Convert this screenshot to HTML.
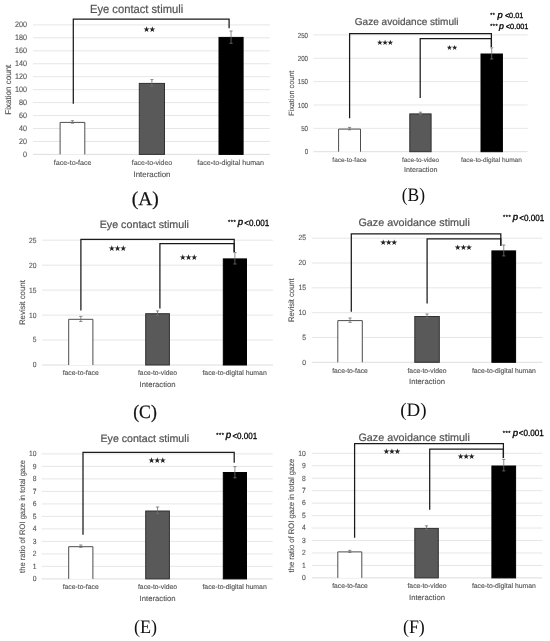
<!DOCTYPE html>
<html lang="en">
<head>
<meta charset="utf-8">
<title>Eye-tracking results by interaction type</title>
<style>
html, body { margin: 0; padding: 0; background: #ffffff; }
body { width: 550px; height: 641px; overflow: hidden; }
svg { display: block; font-family: "Liberation Sans", Arial, sans-serif; text-rendering: geometricPrecision; }
</style>
</head>
<body>
<svg width="550" height="641" viewBox="0 0 550 641">
<rect x="0" y="0" width="550" height="641" fill="#ffffff"/>
<g id="panelA">
<line x1="33" y1="154.4" x2="269.9" y2="154.4" stroke="#d4d4d4" stroke-width="0.8"/>
<line x1="33" y1="141.45" x2="269.9" y2="141.45" stroke="#e0e0e0" stroke-width="0.8"/>
<line x1="33" y1="128.5" x2="269.9" y2="128.5" stroke="#e0e0e0" stroke-width="0.8"/>
<line x1="33" y1="115.55" x2="269.9" y2="115.55" stroke="#e0e0e0" stroke-width="0.8"/>
<line x1="33" y1="102.6" x2="269.9" y2="102.6" stroke="#e0e0e0" stroke-width="0.8"/>
<line x1="33" y1="89.65" x2="269.9" y2="89.65" stroke="#e0e0e0" stroke-width="0.8"/>
<line x1="33" y1="76.7" x2="269.9" y2="76.7" stroke="#e0e0e0" stroke-width="0.8"/>
<line x1="33" y1="63.75" x2="269.9" y2="63.75" stroke="#e0e0e0" stroke-width="0.8"/>
<line x1="33" y1="50.8" x2="269.9" y2="50.8" stroke="#e0e0e0" stroke-width="0.8"/>
<line x1="33" y1="37.85" x2="269.9" y2="37.85" stroke="#e0e0e0" stroke-width="0.8"/>
<line x1="33" y1="24.9" x2="269.9" y2="24.9" stroke="#e0e0e0" stroke-width="0.8"/>
<text x="27" y="156.9" font-size="7.9" text-anchor="end" fill="#545454" stroke="#545454" stroke-width="0.12" textLength="4" lengthAdjust="spacingAndGlyphs">0</text>
<text x="27" y="143.95" font-size="7.9" text-anchor="end" fill="#545454" stroke="#545454" stroke-width="0.12" textLength="8" lengthAdjust="spacingAndGlyphs">20</text>
<text x="27" y="131" font-size="7.9" text-anchor="end" fill="#545454" stroke="#545454" stroke-width="0.12" textLength="8" lengthAdjust="spacingAndGlyphs">40</text>
<text x="27" y="118.05" font-size="7.9" text-anchor="end" fill="#545454" stroke="#545454" stroke-width="0.12" textLength="8" lengthAdjust="spacingAndGlyphs">60</text>
<text x="27" y="105.1" font-size="7.9" text-anchor="end" fill="#545454" stroke="#545454" stroke-width="0.12" textLength="8" lengthAdjust="spacingAndGlyphs">80</text>
<text x="27" y="92.15" font-size="7.9" text-anchor="end" fill="#545454" stroke="#545454" stroke-width="0.12" textLength="12" lengthAdjust="spacingAndGlyphs">100</text>
<text x="27" y="79.2" font-size="7.9" text-anchor="end" fill="#545454" stroke="#545454" stroke-width="0.12" textLength="12" lengthAdjust="spacingAndGlyphs">120</text>
<text x="27" y="66.25" font-size="7.9" text-anchor="end" fill="#545454" stroke="#545454" stroke-width="0.12" textLength="12" lengthAdjust="spacingAndGlyphs">140</text>
<text x="27" y="53.3" font-size="7.9" text-anchor="end" fill="#545454" stroke="#545454" stroke-width="0.12" textLength="12" lengthAdjust="spacingAndGlyphs">160</text>
<text x="27" y="40.35" font-size="7.9" text-anchor="end" fill="#545454" stroke="#545454" stroke-width="0.12" textLength="12" lengthAdjust="spacingAndGlyphs">180</text>
<text x="27" y="27.4" font-size="7.9" text-anchor="end" fill="#545454" stroke="#545454" stroke-width="0.12" textLength="12" lengthAdjust="spacingAndGlyphs">200</text>
<text transform="translate(9.8 89.65) rotate(-90)" font-size="8.3" text-anchor="middle" fill="#545454" stroke="#545454" stroke-width="0.12" textLength="50" lengthAdjust="spacingAndGlyphs" dy="1.54">Fixation count</text>
<text x="90" y="12.8" font-size="11.8" fill="#545454" stroke="#545454" stroke-width="0.22" textLength="93.2" lengthAdjust="spacingAndGlyphs">Eye contact stimuli</text>
<path d="M60.1 154.4V122.4H84.8V154.4" fill="#ffffff" stroke="#4d4d4d" stroke-width="1"/>
<path d="M72.45 120.7V123.2M70.85 120.7h3.2M70.85 123.2h3.2" stroke="#707070" stroke-width="0.8" fill="none"/>
<rect x="139.3" y="83.4" width="25.2" height="71" fill="#595959" stroke="#303030" stroke-width="1"/>
<path d="M151.9 79.6V86.2M150.3 79.6h3.2M150.3 86.2h3.2" stroke="#707070" stroke-width="0.8" fill="none"/>
<rect x="219" y="37.4" width="24.1" height="117" fill="#000000" stroke="#000000" stroke-width="1"/>
<path d="M231.05 31V43.3M229.45 31h3.2M229.45 43.3h3.2" stroke="#707070" stroke-width="0.8" fill="none"/>
<path d="M73.3 103.8V19.1H229.1V28.2" stroke="#1a1a1a" stroke-width="1.25" fill="none" stroke-linejoin="miter"/>
<text x="142.97 148.67" y="31.85" font-family='"DejaVu Sans", "Liberation Sans", sans-serif' font-size="7.92" fill="#222">★★</text>
<text x="72.7" y="165.1" font-size="7.1" text-anchor="middle" fill="#545454" stroke="#545454" stroke-width="0.12" textLength="37.7" lengthAdjust="spacingAndGlyphs">face-to-face</text>
<text x="152" y="165.1" font-size="7.1" text-anchor="middle" fill="#545454" stroke="#545454" stroke-width="0.12" textLength="40.5" lengthAdjust="spacingAndGlyphs">face-to-video</text>
<text x="230.7" y="165.1" font-size="7.1" text-anchor="middle" fill="#545454" stroke="#545454" stroke-width="0.12" textLength="66.7" lengthAdjust="spacingAndGlyphs">face-to-digital human</text>
<text x="152" y="177.1" font-size="7.9" text-anchor="middle" fill="#545454" stroke="#545454" stroke-width="0.12" textLength="37" lengthAdjust="spacingAndGlyphs">Interaction</text>
<text x="145.25" y="204.5" font-family='"Liberation Serif", "Times New Roman", serif' font-size="19.5" text-anchor="middle" fill="#111" stroke="#111" stroke-width="0.25">(A)</text>
</g>
<g id="panelB">
<line x1="313.5" y1="151.7" x2="527.6" y2="151.7" stroke="#d4d4d4" stroke-width="0.8"/>
<line x1="313.5" y1="128.34" x2="527.6" y2="128.34" stroke="#e0e0e0" stroke-width="0.8"/>
<line x1="313.5" y1="104.98" x2="527.6" y2="104.98" stroke="#e0e0e0" stroke-width="0.8"/>
<line x1="313.5" y1="81.62" x2="527.6" y2="81.62" stroke="#e0e0e0" stroke-width="0.8"/>
<line x1="313.5" y1="58.26" x2="527.6" y2="58.26" stroke="#e0e0e0" stroke-width="0.8"/>
<line x1="313.5" y1="34.9" x2="527.6" y2="34.9" stroke="#e0e0e0" stroke-width="0.8"/>
<text x="308.1" y="154.45" font-size="7.3" text-anchor="end" fill="#545454" stroke="#545454" stroke-width="0.12" textLength="3.47" lengthAdjust="spacingAndGlyphs">0</text>
<text x="308.1" y="131.09" font-size="7.3" text-anchor="end" fill="#545454" stroke="#545454" stroke-width="0.12" textLength="6.94" lengthAdjust="spacingAndGlyphs">50</text>
<text x="308.1" y="107.73" font-size="7.3" text-anchor="end" fill="#545454" stroke="#545454" stroke-width="0.12" textLength="10.41" lengthAdjust="spacingAndGlyphs">100</text>
<text x="308.1" y="84.37" font-size="7.3" text-anchor="end" fill="#545454" stroke="#545454" stroke-width="0.12" textLength="10.41" lengthAdjust="spacingAndGlyphs">150</text>
<text x="308.1" y="61.01" font-size="7.3" text-anchor="end" fill="#545454" stroke="#545454" stroke-width="0.12" textLength="10.41" lengthAdjust="spacingAndGlyphs">200</text>
<text x="308.1" y="37.65" font-size="7.3" text-anchor="end" fill="#545454" stroke="#545454" stroke-width="0.12" textLength="10.41" lengthAdjust="spacingAndGlyphs">250</text>
<text transform="translate(292.3 93.3) rotate(-90)" font-size="7.6" text-anchor="middle" fill="#545454" stroke="#545454" stroke-width="0.12" textLength="45" lengthAdjust="spacingAndGlyphs" dy="1.31">Fixation count</text>
<text x="354.8" y="24.7" font-size="10" fill="#545454" stroke="#545454" stroke-width="0.22" textLength="103.7" lengthAdjust="spacingAndGlyphs">Gaze avoidance stimuli</text>
<path d="M338.6 151.7V129.1H360.5V151.7" fill="#ffffff" stroke="#4d4d4d" stroke-width="1"/>
<path d="M349.55 127.4V129.8M347.95 127.4h3.2M347.95 129.8h3.2" stroke="#707070" stroke-width="0.8" fill="none"/>
<rect x="409.8" y="113.9" width="21.3" height="37.8" fill="#595959" stroke="#303030" stroke-width="1"/>
<path d="M420.45 112.2V114.6M418.85 112.2h3.2M418.85 114.6h3.2" stroke="#707070" stroke-width="0.8" fill="none"/>
<rect x="481" y="54" width="21.4" height="97.7" fill="#000000" stroke="#000000" stroke-width="1"/>
<path d="M491.7 47.8V59M490.1 47.8h3.2M490.1 59h3.2" stroke="#707070" stroke-width="0.8" fill="none"/>
<path d="M349.6 118.3V33.6H491.4V47" stroke="#1a1a1a" stroke-width="1.25" fill="none" stroke-linejoin="miter"/>
<path d="M420.2 98V38.7H491.4V47" stroke="#1a1a1a" stroke-width="1.25" fill="none" stroke-linejoin="miter"/>
<text x="376.38 381.73 387.08" y="44.67" font-family='"DejaVu Sans", "Liberation Sans", sans-serif' font-size="7.43" fill="#222">★★★</text>
<text x="446.33 451.43" y="50.05" font-family='"DejaVu Sans", "Liberation Sans", sans-serif' font-size="7.08" fill="#222">★★</text>
<text x="349.5" y="162.1" font-size="6.5" text-anchor="middle" fill="#545454" stroke="#545454" stroke-width="0.12" textLength="34.3" lengthAdjust="spacingAndGlyphs">face-to-face</text>
<text x="420.5" y="162.1" font-size="6.5" text-anchor="middle" fill="#545454" stroke="#545454" stroke-width="0.12" textLength="37" lengthAdjust="spacingAndGlyphs">face-to-video</text>
<text x="491.4" y="162.1" font-size="6.5" text-anchor="middle" fill="#545454" stroke="#545454" stroke-width="0.12" textLength="61" lengthAdjust="spacingAndGlyphs">face-to-digital human</text>
<text x="420.7" y="172.2" font-size="7.2" text-anchor="middle" fill="#545454" stroke="#545454" stroke-width="0.12" textLength="33.5" lengthAdjust="spacingAndGlyphs">Interaction</text>
<text x="489.9" y="15.45" font-family='"DejaVu Sans", "Liberation Sans", sans-serif' font-size="3.5" fill="#000" stroke="#000" stroke-width="0.2" textLength="5.1" lengthAdjust="spacingAndGlyphs">★★</text>
<text x="497.6" y="17.7" font-size="9.3" font-style="italic" fill="#000" stroke="#000" stroke-width="0.35">p</text>
<text x="504.9" y="18.1" font-size="7.6" fill="#000" stroke="#000" stroke-width="0.28" textLength="18.3" lengthAdjust="spacingAndGlyphs">&lt;0.01</text>
<text x="489.9" y="25.95" font-family='"DejaVu Sans", "Liberation Sans", sans-serif' font-size="3.5" fill="#000" stroke="#000" stroke-width="0.2" textLength="7.9" lengthAdjust="spacingAndGlyphs">★★★</text>
<text x="498.9" y="28.5" font-size="8.8" font-style="italic" fill="#000" stroke="#000" stroke-width="0.35">p</text>
<text x="505.8" y="28.9" font-size="7.6" fill="#000" stroke="#000" stroke-width="0.28" textLength="22.6" lengthAdjust="spacingAndGlyphs">&lt;0.001</text>
<text x="413.35" y="201.3" font-family='"Liberation Serif", "Times New Roman", serif' font-size="19" text-anchor="middle" fill="#111" textLength="23.3" lengthAdjust="spacingAndGlyphs">(B)</text>
</g>
<g id="panelC">
<line x1="42.1" y1="365" x2="272.9" y2="365" stroke="#d4d4d4" stroke-width="0.8"/>
<line x1="42.1" y1="340.04" x2="272.9" y2="340.04" stroke="#e0e0e0" stroke-width="0.8"/>
<line x1="42.1" y1="315.08" x2="272.9" y2="315.08" stroke="#e0e0e0" stroke-width="0.8"/>
<line x1="42.1" y1="290.12" x2="272.9" y2="290.12" stroke="#e0e0e0" stroke-width="0.8"/>
<line x1="42.1" y1="265.16" x2="272.9" y2="265.16" stroke="#e0e0e0" stroke-width="0.8"/>
<line x1="42.1" y1="240.2" x2="272.9" y2="240.2" stroke="#e0e0e0" stroke-width="0.8"/>
<text x="36.6" y="367.45" font-size="7.6" text-anchor="end" fill="#545454" stroke="#545454" stroke-width="0.12" textLength="3.75" lengthAdjust="spacingAndGlyphs">0</text>
<text x="36.6" y="342.49" font-size="7.6" text-anchor="end" fill="#545454" stroke="#545454" stroke-width="0.12" textLength="3.75" lengthAdjust="spacingAndGlyphs">5</text>
<text x="36.6" y="317.53" font-size="7.6" text-anchor="end" fill="#545454" stroke="#545454" stroke-width="0.12" textLength="7.5" lengthAdjust="spacingAndGlyphs">10</text>
<text x="36.6" y="292.57" font-size="7.6" text-anchor="end" fill="#545454" stroke="#545454" stroke-width="0.12" textLength="7.5" lengthAdjust="spacingAndGlyphs">15</text>
<text x="36.6" y="267.61" font-size="7.6" text-anchor="end" fill="#545454" stroke="#545454" stroke-width="0.12" textLength="7.5" lengthAdjust="spacingAndGlyphs">20</text>
<text x="36.6" y="242.65" font-size="7.6" text-anchor="end" fill="#545454" stroke="#545454" stroke-width="0.12" textLength="7.5" lengthAdjust="spacingAndGlyphs">25</text>
<text transform="translate(23.7 302.6) rotate(-90)" font-size="8" text-anchor="middle" fill="#545454" stroke="#545454" stroke-width="0.12" textLength="45" lengthAdjust="spacingAndGlyphs" dy="1.44">Revisit count</text>
<text x="99.7" y="228.4" font-size="10.6" fill="#545454" stroke="#545454" stroke-width="0.22" textLength="89.3" lengthAdjust="spacingAndGlyphs">Eye contact stimuli</text>
<path d="M68.7 365V319.3H92.9V365" fill="#ffffff" stroke="#4d4d4d" stroke-width="1"/>
<path d="M80.8 316.4V321.5M79.2 316.4h3.2M79.2 321.5h3.2" stroke="#707070" stroke-width="0.8" fill="none"/>
<rect x="145.7" y="313.7" width="23.7" height="51.3" fill="#595959" stroke="#303030" stroke-width="1"/>
<path d="M157.55 310.9V315.4M155.95 310.9h3.2M155.95 315.4h3.2" stroke="#707070" stroke-width="0.8" fill="none"/>
<rect x="223.3" y="258.9" width="23.2" height="106.1" fill="#000000" stroke="#000000" stroke-width="1"/>
<path d="M234.9 252.6V264M233.3 252.6h3.2M233.3 264h3.2" stroke="#707070" stroke-width="0.8" fill="none"/>
<path d="M80.9 310.6V239.4H234.2V252" stroke="#1a1a1a" stroke-width="1.25" fill="none" stroke-linejoin="miter"/>
<path d="M159.9 308.4V243.7H234.2V252" stroke="#1a1a1a" stroke-width="1.25" fill="none" stroke-linejoin="miter"/>
<text x="108.36 114.03 119.7" y="251.14" font-family='"DejaVu Sans", "Liberation Sans", sans-serif' font-size="7.88" fill="#222">★★★</text>
<text x="179.37 185.03 190.7" y="259.53" font-family='"DejaVu Sans", "Liberation Sans", sans-serif' font-size="7.88" fill="#222">★★★</text>
<text x="80.7" y="375.1" font-size="6.8" text-anchor="middle" fill="#545454" stroke="#545454" stroke-width="0.12" textLength="36" lengthAdjust="spacingAndGlyphs">face-to-face</text>
<text x="157.5" y="375.1" font-size="6.8" text-anchor="middle" fill="#545454" stroke="#545454" stroke-width="0.12" textLength="39" lengthAdjust="spacingAndGlyphs">face-to-video</text>
<text x="234.6" y="375.1" font-size="6.8" text-anchor="middle" fill="#545454" stroke="#545454" stroke-width="0.12" textLength="64.4" lengthAdjust="spacingAndGlyphs">face-to-digital human</text>
<text x="157.6" y="387.3" font-size="7.7" text-anchor="middle" fill="#545454" stroke="#545454" stroke-width="0.12" textLength="36" lengthAdjust="spacingAndGlyphs">Interaction</text>
<text x="227.8" y="222.25" font-family='"DejaVu Sans", "Liberation Sans", sans-serif' font-size="3.5" fill="#000" stroke="#000" stroke-width="0.2" textLength="8.2" lengthAdjust="spacingAndGlyphs">★★★</text>
<text x="237.8" y="225" font-size="9.6" font-style="italic" fill="#000" stroke="#000" stroke-width="0.35">p</text>
<text x="244.2" y="226.1" font-size="9" fill="#000" stroke="#000" stroke-width="0.28" textLength="25" lengthAdjust="spacingAndGlyphs">&lt;0.001</text>
<text x="145" y="418.4" font-family='"Liberation Serif", "Times New Roman", serif' font-size="19" text-anchor="middle" fill="#111" stroke="#111" stroke-width="0.25" textLength="23.6" lengthAdjust="spacingAndGlyphs">(C)</text>
</g>
<g id="panelD">
<line x1="311.9" y1="362.3" x2="542.3" y2="362.3" stroke="#d4d4d4" stroke-width="0.8"/>
<line x1="311.9" y1="337.48" x2="542.3" y2="337.48" stroke="#e0e0e0" stroke-width="0.8"/>
<line x1="311.9" y1="312.66" x2="542.3" y2="312.66" stroke="#e0e0e0" stroke-width="0.8"/>
<line x1="311.9" y1="287.84" x2="542.3" y2="287.84" stroke="#e0e0e0" stroke-width="0.8"/>
<line x1="311.9" y1="263.02" x2="542.3" y2="263.02" stroke="#e0e0e0" stroke-width="0.8"/>
<line x1="311.9" y1="238.2" x2="542.3" y2="238.2" stroke="#e0e0e0" stroke-width="0.8"/>
<text x="306" y="364.55" font-size="7.5" text-anchor="end" fill="#545454" stroke="#545454" stroke-width="0.12" textLength="3.75" lengthAdjust="spacingAndGlyphs">0</text>
<text x="306" y="339.73" font-size="7.5" text-anchor="end" fill="#545454" stroke="#545454" stroke-width="0.12" textLength="3.75" lengthAdjust="spacingAndGlyphs">5</text>
<text x="306" y="314.91" font-size="7.5" text-anchor="end" fill="#545454" stroke="#545454" stroke-width="0.12" textLength="7.5" lengthAdjust="spacingAndGlyphs">10</text>
<text x="306" y="290.09" font-size="7.5" text-anchor="end" fill="#545454" stroke="#545454" stroke-width="0.12" textLength="7.5" lengthAdjust="spacingAndGlyphs">15</text>
<text x="306" y="265.27" font-size="7.5" text-anchor="end" fill="#545454" stroke="#545454" stroke-width="0.12" textLength="7.5" lengthAdjust="spacingAndGlyphs">20</text>
<text x="306" y="240.45" font-size="7.5" text-anchor="end" fill="#545454" stroke="#545454" stroke-width="0.12" textLength="7.5" lengthAdjust="spacingAndGlyphs">25</text>
<text transform="translate(292.3 300.25) rotate(-90)" font-size="8" text-anchor="middle" fill="#545454" stroke="#545454" stroke-width="0.12" textLength="43.6" lengthAdjust="spacingAndGlyphs" dy="1.44">Revisit count</text>
<text x="358.5" y="225.9" font-size="10.7" fill="#545454" stroke="#545454" stroke-width="0.22" textLength="111.3" lengthAdjust="spacingAndGlyphs">Gaze avoidance stimuli</text>
<path d="M337.8 362.3V320.6H362.3V362.3" fill="#ffffff" stroke="#4d4d4d" stroke-width="1"/>
<path d="M350.05 318V322.4M348.45 318h3.2M348.45 322.4h3.2" stroke="#707070" stroke-width="0.8" fill="none"/>
<rect x="414.8" y="316.5" width="24.5" height="45.8" fill="#595959" stroke="#303030" stroke-width="1"/>
<path d="M427.05 314V317.8M425.45 314h3.2M425.45 317.8h3.2" stroke="#707070" stroke-width="0.8" fill="none"/>
<rect x="491.9" y="250.9" width="23.7" height="111.4" fill="#000000" stroke="#000000" stroke-width="1"/>
<path d="M503.75 245V255.9M502.15 245h3.2M502.15 255.9h3.2" stroke="#707070" stroke-width="0.8" fill="none"/>
<path d="M351.3 311.8V233.8H500.8V245.7" stroke="#1a1a1a" stroke-width="1.25" fill="none" stroke-linejoin="miter"/>
<path d="M427.1 303.5V238.8H500.8V245.7" stroke="#1a1a1a" stroke-width="1.25" fill="none" stroke-linejoin="miter"/>
<text x="379.76 385.31 390.86" y="244.58" font-family='"DejaVu Sans", "Liberation Sans", sans-serif' font-size="7.71" fill="#222">★★★</text>
<text x="454.36 459.91 465.46" y="249.97" font-family='"DejaVu Sans", "Liberation Sans", sans-serif' font-size="7.71" fill="#222">★★★</text>
<text x="350" y="372.6" font-size="6.8" text-anchor="middle" fill="#545454" stroke="#545454" stroke-width="0.12" textLength="35.6" lengthAdjust="spacingAndGlyphs">face-to-face</text>
<text x="427" y="372.6" font-size="6.8" text-anchor="middle" fill="#545454" stroke="#545454" stroke-width="0.12" textLength="39" lengthAdjust="spacingAndGlyphs">face-to-video</text>
<text x="503.9" y="372.6" font-size="6.8" text-anchor="middle" fill="#545454" stroke="#545454" stroke-width="0.12" textLength="64" lengthAdjust="spacingAndGlyphs">face-to-digital human</text>
<text x="427" y="383.9" font-size="7.7" text-anchor="middle" fill="#545454" stroke="#545454" stroke-width="0.12" textLength="36" lengthAdjust="spacingAndGlyphs">Interaction</text>
<text x="502.8" y="217.25" font-family='"DejaVu Sans", "Liberation Sans", sans-serif' font-size="3.5" fill="#000" stroke="#000" stroke-width="0.2" textLength="8.2" lengthAdjust="spacingAndGlyphs">★★★</text>
<text x="512.8" y="220" font-size="9.6" font-style="italic" fill="#000" stroke="#000" stroke-width="0.35">p</text>
<text x="519.2" y="221.1" font-size="9" fill="#000" stroke="#000" stroke-width="0.28" textLength="25" lengthAdjust="spacingAndGlyphs">&lt;0.001</text>
<text x="413.5" y="416.3" font-family='"Liberation Serif", "Times New Roman", serif' font-size="19" text-anchor="middle" fill="#111">(D)</text>
</g>
<g id="panelE">
<line x1="41.8" y1="578.9" x2="272.7" y2="578.9" stroke="#d4d4d4" stroke-width="0.8"/>
<line x1="41.8" y1="566.4" x2="272.7" y2="566.4" stroke="#e0e0e0" stroke-width="0.8"/>
<line x1="41.8" y1="553.9" x2="272.7" y2="553.9" stroke="#e0e0e0" stroke-width="0.8"/>
<line x1="41.8" y1="541.4" x2="272.7" y2="541.4" stroke="#e0e0e0" stroke-width="0.8"/>
<line x1="41.8" y1="528.9" x2="272.7" y2="528.9" stroke="#e0e0e0" stroke-width="0.8"/>
<line x1="41.8" y1="516.4" x2="272.7" y2="516.4" stroke="#e0e0e0" stroke-width="0.8"/>
<line x1="41.8" y1="503.9" x2="272.7" y2="503.9" stroke="#e0e0e0" stroke-width="0.8"/>
<line x1="41.8" y1="491.4" x2="272.7" y2="491.4" stroke="#e0e0e0" stroke-width="0.8"/>
<line x1="41.8" y1="478.9" x2="272.7" y2="478.9" stroke="#e0e0e0" stroke-width="0.8"/>
<line x1="41.8" y1="466.4" x2="272.7" y2="466.4" stroke="#e0e0e0" stroke-width="0.8"/>
<line x1="41.8" y1="453.9" x2="272.7" y2="453.9" stroke="#e0e0e0" stroke-width="0.8"/>
<text x="36.6" y="581.3" font-size="7.5" text-anchor="end" fill="#545454" stroke="#545454" stroke-width="0.12" textLength="3.75" lengthAdjust="spacingAndGlyphs">0</text>
<text x="36.6" y="568.8" font-size="7.5" text-anchor="end" fill="#545454" stroke="#545454" stroke-width="0.12" textLength="3.75" lengthAdjust="spacingAndGlyphs">1</text>
<text x="36.6" y="556.3" font-size="7.5" text-anchor="end" fill="#545454" stroke="#545454" stroke-width="0.12" textLength="3.75" lengthAdjust="spacingAndGlyphs">2</text>
<text x="36.6" y="543.8" font-size="7.5" text-anchor="end" fill="#545454" stroke="#545454" stroke-width="0.12" textLength="3.75" lengthAdjust="spacingAndGlyphs">3</text>
<text x="36.6" y="531.3" font-size="7.5" text-anchor="end" fill="#545454" stroke="#545454" stroke-width="0.12" textLength="3.75" lengthAdjust="spacingAndGlyphs">4</text>
<text x="36.6" y="518.8" font-size="7.5" text-anchor="end" fill="#545454" stroke="#545454" stroke-width="0.12" textLength="3.75" lengthAdjust="spacingAndGlyphs">5</text>
<text x="36.6" y="506.3" font-size="7.5" text-anchor="end" fill="#545454" stroke="#545454" stroke-width="0.12" textLength="3.75" lengthAdjust="spacingAndGlyphs">6</text>
<text x="36.6" y="493.8" font-size="7.5" text-anchor="end" fill="#545454" stroke="#545454" stroke-width="0.12" textLength="3.75" lengthAdjust="spacingAndGlyphs">7</text>
<text x="36.6" y="481.3" font-size="7.5" text-anchor="end" fill="#545454" stroke="#545454" stroke-width="0.12" textLength="3.75" lengthAdjust="spacingAndGlyphs">8</text>
<text x="36.6" y="468.8" font-size="7.5" text-anchor="end" fill="#545454" stroke="#545454" stroke-width="0.12" textLength="3.75" lengthAdjust="spacingAndGlyphs">9</text>
<text x="36.6" y="456.3" font-size="7.5" text-anchor="end" fill="#545454" stroke="#545454" stroke-width="0.12" textLength="7.5" lengthAdjust="spacingAndGlyphs">10</text>
<text transform="translate(24 516.4) rotate(-90)" font-size="7.9" text-anchor="middle" fill="#545454" stroke="#545454" stroke-width="0.12" textLength="113" lengthAdjust="spacingAndGlyphs" dy="1.41">the ratio of ROI gaze in total gaze</text>
<text x="100.5" y="442.1" font-size="10.6" fill="#545454" stroke="#545454" stroke-width="0.22" textLength="88.5" lengthAdjust="spacingAndGlyphs">Eye contact stimuli</text>
<path d="M68.7 578.9V546.7H92.9V578.9" fill="#ffffff" stroke="#4d4d4d" stroke-width="1"/>
<path d="M80.8 545V547.4M79.2 545h3.2M79.2 547.4h3.2" stroke="#707070" stroke-width="0.8" fill="none"/>
<rect x="145.7" y="511" width="23.7" height="67.9" fill="#595959" stroke="#303030" stroke-width="1"/>
<path d="M157.55 507V513.6M155.95 507h3.2M155.95 513.6h3.2" stroke="#707070" stroke-width="0.8" fill="none"/>
<rect x="223.3" y="472.5" width="23.2" height="106.4" fill="#000000" stroke="#000000" stroke-width="1"/>
<path d="M234.9 466.6V477.8M233.3 466.6h3.2M233.3 477.8h3.2" stroke="#707070" stroke-width="0.8" fill="none"/>
<path d="M83 534.7V452.3H234.2V462.7" stroke="#1a1a1a" stroke-width="1.25" fill="none" stroke-linejoin="miter"/>
<text x="147.97 153.63 159.3" y="463.03" font-family='"DejaVu Sans", "Liberation Sans", sans-serif' font-size="7.88" fill="#222">★★★</text>
<text x="80.7" y="589.1" font-size="6.8" text-anchor="middle" fill="#545454" stroke="#545454" stroke-width="0.12" textLength="36" lengthAdjust="spacingAndGlyphs">face-to-face</text>
<text x="157.5" y="589.1" font-size="6.8" text-anchor="middle" fill="#545454" stroke="#545454" stroke-width="0.12" textLength="39" lengthAdjust="spacingAndGlyphs">face-to-video</text>
<text x="234.6" y="589.1" font-size="6.8" text-anchor="middle" fill="#545454" stroke="#545454" stroke-width="0.12" textLength="64.4" lengthAdjust="spacingAndGlyphs">face-to-digital human</text>
<text x="157.6" y="601" font-size="7.7" text-anchor="middle" fill="#545454" stroke="#545454" stroke-width="0.12" textLength="36" lengthAdjust="spacingAndGlyphs">Interaction</text>
<text x="216" y="434.75" font-family='"DejaVu Sans", "Liberation Sans", sans-serif' font-size="3.5" fill="#000" stroke="#000" stroke-width="0.2" textLength="8.2" lengthAdjust="spacingAndGlyphs">★★★</text>
<text x="225.8" y="438" font-size="9.8" font-style="italic" fill="#000" stroke="#000" stroke-width="0.35">p</text>
<text x="232.4" y="439.1" font-size="9" fill="#000" stroke="#000" stroke-width="0.28" textLength="24.8" lengthAdjust="spacingAndGlyphs">&lt;0.001</text>
<text x="145.5" y="632.6" font-family='"Liberation Serif", "Times New Roman", serif' font-size="19" text-anchor="middle" fill="#111" textLength="23.1" lengthAdjust="spacingAndGlyphs">(E)</text>
</g>
<g id="panelF">
<line x1="311.9" y1="577.9" x2="542.3" y2="577.9" stroke="#d4d4d4" stroke-width="0.8"/>
<line x1="311.9" y1="565.44" x2="542.3" y2="565.44" stroke="#e0e0e0" stroke-width="0.8"/>
<line x1="311.9" y1="552.98" x2="542.3" y2="552.98" stroke="#e0e0e0" stroke-width="0.8"/>
<line x1="311.9" y1="540.52" x2="542.3" y2="540.52" stroke="#e0e0e0" stroke-width="0.8"/>
<line x1="311.9" y1="528.06" x2="542.3" y2="528.06" stroke="#e0e0e0" stroke-width="0.8"/>
<line x1="311.9" y1="515.6" x2="542.3" y2="515.6" stroke="#e0e0e0" stroke-width="0.8"/>
<line x1="311.9" y1="503.14" x2="542.3" y2="503.14" stroke="#e0e0e0" stroke-width="0.8"/>
<line x1="311.9" y1="490.68" x2="542.3" y2="490.68" stroke="#e0e0e0" stroke-width="0.8"/>
<line x1="311.9" y1="478.22" x2="542.3" y2="478.22" stroke="#e0e0e0" stroke-width="0.8"/>
<line x1="311.9" y1="465.76" x2="542.3" y2="465.76" stroke="#e0e0e0" stroke-width="0.8"/>
<line x1="311.9" y1="453.3" x2="542.3" y2="453.3" stroke="#e0e0e0" stroke-width="0.8"/>
<text x="305.7" y="580.2" font-size="7.5" text-anchor="end" fill="#545454" stroke="#545454" stroke-width="0.12" textLength="3.75" lengthAdjust="spacingAndGlyphs">0</text>
<text x="305.7" y="567.74" font-size="7.5" text-anchor="end" fill="#545454" stroke="#545454" stroke-width="0.12" textLength="3.75" lengthAdjust="spacingAndGlyphs">1</text>
<text x="305.7" y="555.28" font-size="7.5" text-anchor="end" fill="#545454" stroke="#545454" stroke-width="0.12" textLength="3.75" lengthAdjust="spacingAndGlyphs">2</text>
<text x="305.7" y="542.82" font-size="7.5" text-anchor="end" fill="#545454" stroke="#545454" stroke-width="0.12" textLength="3.75" lengthAdjust="spacingAndGlyphs">3</text>
<text x="305.7" y="530.36" font-size="7.5" text-anchor="end" fill="#545454" stroke="#545454" stroke-width="0.12" textLength="3.75" lengthAdjust="spacingAndGlyphs">4</text>
<text x="305.7" y="517.9" font-size="7.5" text-anchor="end" fill="#545454" stroke="#545454" stroke-width="0.12" textLength="3.75" lengthAdjust="spacingAndGlyphs">5</text>
<text x="305.7" y="505.44" font-size="7.5" text-anchor="end" fill="#545454" stroke="#545454" stroke-width="0.12" textLength="3.75" lengthAdjust="spacingAndGlyphs">6</text>
<text x="305.7" y="492.98" font-size="7.5" text-anchor="end" fill="#545454" stroke="#545454" stroke-width="0.12" textLength="3.75" lengthAdjust="spacingAndGlyphs">7</text>
<text x="305.7" y="480.52" font-size="7.5" text-anchor="end" fill="#545454" stroke="#545454" stroke-width="0.12" textLength="3.75" lengthAdjust="spacingAndGlyphs">8</text>
<text x="305.7" y="468.06" font-size="7.5" text-anchor="end" fill="#545454" stroke="#545454" stroke-width="0.12" textLength="3.75" lengthAdjust="spacingAndGlyphs">9</text>
<text x="305.7" y="455.6" font-size="7.5" text-anchor="end" fill="#545454" stroke="#545454" stroke-width="0.12" textLength="7.5" lengthAdjust="spacingAndGlyphs">10</text>
<text transform="translate(292.8 515.6) rotate(-90)" font-size="7.9" text-anchor="middle" fill="#545454" stroke="#545454" stroke-width="0.12" textLength="113.7" lengthAdjust="spacingAndGlyphs" dy="1.41">the ratio of ROI gaze in total gaze</text>
<text x="358.5" y="441.1" font-size="10.7" fill="#545454" stroke="#545454" stroke-width="0.22" textLength="111.3" lengthAdjust="spacingAndGlyphs">Gaze avoidance stimuli</text>
<path d="M337.8 577.9V551.9H361.8V577.9" fill="#ffffff" stroke="#4d4d4d" stroke-width="1"/>
<path d="M349.8 550.3V552.5M348.2 550.3h3.2M348.2 552.5h3.2" stroke="#707070" stroke-width="0.8" fill="none"/>
<rect x="414.8" y="528.4" width="23.5" height="49.5" fill="#595959" stroke="#303030" stroke-width="1"/>
<path d="M426.55 525.8V529.6M424.95 525.8h3.2M424.95 529.6h3.2" stroke="#707070" stroke-width="0.8" fill="none"/>
<rect x="491.9" y="466" width="23.7" height="111.9" fill="#000000" stroke="#000000" stroke-width="1"/>
<path d="M503.75 459.4V470.9M502.15 459.4h3.2M502.15 470.9h3.2" stroke="#707070" stroke-width="0.8" fill="none"/>
<path d="M354.6 537.7V443.7H503.4V458" stroke="#1a1a1a" stroke-width="1.25" fill="none" stroke-linejoin="miter"/>
<path d="M429.7 509.8V449.1H503.4V458" stroke="#1a1a1a" stroke-width="1.25" fill="none" stroke-linejoin="miter"/>
<text x="382.94 388.44 393.94" y="453.95" font-family='"DejaVu Sans", "Liberation Sans", sans-serif' font-size="7.64" fill="#222">★★★</text>
<text x="457.34 462.84 468.34" y="459.45" font-family='"DejaVu Sans", "Liberation Sans", sans-serif' font-size="7.64" fill="#222">★★★</text>
<text x="350" y="588.4" font-size="6.8" text-anchor="middle" fill="#545454" stroke="#545454" stroke-width="0.12" textLength="35.6" lengthAdjust="spacingAndGlyphs">face-to-face</text>
<text x="427" y="588.4" font-size="6.8" text-anchor="middle" fill="#545454" stroke="#545454" stroke-width="0.12" textLength="39" lengthAdjust="spacingAndGlyphs">face-to-video</text>
<text x="503.9" y="588.4" font-size="6.8" text-anchor="middle" fill="#545454" stroke="#545454" stroke-width="0.12" textLength="64" lengthAdjust="spacingAndGlyphs">face-to-digital human</text>
<text x="427" y="599.7" font-size="7.7" text-anchor="middle" fill="#545454" stroke="#545454" stroke-width="0.12" textLength="36" lengthAdjust="spacingAndGlyphs">Interaction</text>
<text x="502.5" y="432.75" font-family='"DejaVu Sans", "Liberation Sans", sans-serif' font-size="3.5" fill="#000" stroke="#000" stroke-width="0.2" textLength="8.3" lengthAdjust="spacingAndGlyphs">★★★</text>
<text x="512.8" y="435.5" font-size="9.6" font-style="italic" fill="#000" stroke="#000" stroke-width="0.35">p</text>
<text x="518.7" y="436.4" font-size="9" fill="#000" stroke="#000" stroke-width="0.28" textLength="25.1" lengthAdjust="spacingAndGlyphs">&lt;0.001</text>
<text x="413.9" y="632.6" font-family='"Liberation Serif", "Times New Roman", serif' font-size="19" text-anchor="middle" fill="#111" textLength="21.9" lengthAdjust="spacingAndGlyphs">(F)</text>
</g>
</svg>
</body>
</html>
